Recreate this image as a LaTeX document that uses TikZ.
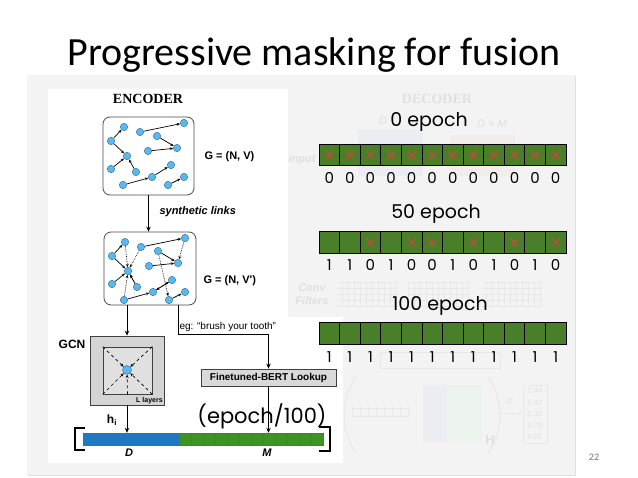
\documentclass[tikz,border=0pt]{standalone}
\usepackage{fontspec}
\setmainfont{Carlito}
\newfontfamily\arialfont{Liberation Sans}
\newfontfamily\timesfont{Liberation Serif}
\newfontfamily\comicfont{Poppins}
\usetikzlibrary{arrows.meta,shapes.misc}

\definecolor{slidegray}{HTML}{F3F3F3}
\definecolor{cellgreen}{HTML}{4A7F2A}
\definecolor{cellblue}{HTML}{1E78C2}
\definecolor{dotblue}{HTML}{5BB8EE}
\definecolor{crossred}{HTML}{D0473A}
\definecolor{fadeink}{HTML}{E0E0E0}
\definecolor{fadeline}{HTML}{E8E8E8}

\tikzset{
  gnode/.style={circle, draw=dotblue!60!black, fill=dotblue, line width=0.4pt, inner sep=0pt, minimum size=7.5pt},
  garr/.style={-{Stealth[length=3.2pt,width=2.8pt]}, line width=0.7pt},
  gdot/.style={garr, densely dotted},
  arr/.style={-{Stealth[length=5pt,width=4.5pt]}, line width=1pt},
  graphbox/.style={draw=black!70, fill=white, rounded corners=7pt, line width=0.8pt, inner sep=0pt},
  enclabel/.style={font=\arialfont\bfseries\fontsize{11}{13}\selectfont},
  dcell/.style={draw=black!60, fill=cellblue, minimum width=12pt, minimum height=12pt, inner sep=0pt, line width=0.4pt},
  mcell/.style={draw=black!60, fill=cellgreen!85!green, minimum width=12pt, minimum height=12pt, inner sep=0pt, line width=0.4pt},
  maskcell/.style={draw=black, fill=cellgreen, minimum width=20.6pt, minimum height=21.5pt, inner sep=0pt, line width=0.7pt},
  cross/.style={draw=crossred, cross out, line width=1.1pt, minimum size=6.5pt, inner sep=0pt},
  bit/.style={font=\comicfont\fontsize{15}{15}\selectfont, inner sep=0pt},
  epochlabel/.style={font=\comicfont\fontsize{19}{22}\selectfont},
  faded/.style={text=fadeink, inner sep=0pt},
}

\begin{document}
\begin{tikzpicture}[x=1pt, y=-1pt]
    \useasboundingbox (0,0) rectangle (638,478);
    % slide
    \fill[white] (0,0) rectangle (638,478);
    \fill[black!12] (28,76) rectangle (576,476);
    \fill[slidegray] (27,75) rectangle (575,475);
    \node[font=\fontsize{40}{48}\selectfont, anchor=base] (title) at (314,66) {Progressive masking for fusion};
    \node[text=black!55, font=\fontsize{10}{12}\selectfont] (pagenum) at (594,457) {22};

    % faded decoder behind
    \node[faded, font=\timesfont\bfseries\fontsize{14}{16}\selectfont] (dec) at (437,99) {DECODER};
    \node[faded, font=\arialfont\itshape\fontsize{11}{13}\selectfont] (decd) at (383,121) {D};
    \node[faded, font=\arialfont\itshape\fontsize{11}{13}\selectfont] (decdm) at (492,124) {D + M};
    \fill[blue!3!slidegray] (358,130) rectangle (423,176);
    \fill[red!3!slidegray] (450,135) rectangle (515,176);
    \node[faded, font=\arialfont\bfseries\itshape\fontsize{11}{13}\selectfont] (decin) at (302,160) {input};
    \node[faded, font=\arialfont\bfseries\itshape\fontsize{11}{13}\selectfont, align=center] (conv) at (312,294) {Conv\\Filters};
    \draw[fadeline, step=6pt] (337,282) grid (397,306);
    \draw[fadeline, step=6pt] (408,282) grid (468,306);
    \draw[fadeline, step=6pt] (482,282) grid (542,306);
    \draw[fadeline] (380,352) rectangle (500,368);
    \draw[fadeline, line width=1pt] (356,377) .. controls (340,400) and (340,430) .. (356,453);
    \draw[fadeline, line width=1pt] (488,377) .. controls (504,400) and (504,430) .. (488,453);
    \draw[fadeline] (352,405) grid[step=8pt] (408,417);
    \fill[blue!3!slidegray] (423,385) rectangle (447,442);
    \fill[green!3!slidegray] (447,385) rectangle (482,442);
    \node[faded, font=\arialfont\bfseries\fontsize{13}{15}\selectfont] (dech) at (490,440) {H};
    \node[faded, font=\fontsize{12}{14}\selectfont] (decsig) at (510,402) {$\sigma$};
    \draw[fadeline, ->] (498,413) -- (521,413);
    \draw[fadeline] (523,385) rectangle (547,443);
    \node[faded, font=\arialfont\fontsize{7.5}{11.5}\selectfont, align=center] (decvec) at (535,414) {0.44\\0.42\\0.32\\0.79\\0.02};

    % encoder picture
    \fill[white] (48,89) -- (288,89) -- (288,317) -- (343,317) -- (343,463) -- (48,463) -- cycle;
    \node[font=\timesfont\bfseries\fontsize{14}{16}\selectfont] (enc) at (148,99) {ENCODER};
    \node[graphbox, minimum width=91pt, minimum height=78pt] (box1) at (148.5,156) {};
    \node[graphbox, minimum width=92pt, minimum height=73pt] (box2) at (150,268.5) {};
    \foreach \n/\x/\y in {1/124/127, 2/111/141, 3/140/132, 4/184/123, 5/157/136,
                          6/177/148, 7/148/151, 8/127/156, 9/111/169, 10/136/172,
                          11/171/165, 12/152/177, 13/123/185, 14/184/177, 15/168/185} {
        \node[gnode] (a\n) at (\x,\y) {};
        \node[gnode] (b\n) at (\x+1,\y+115) {};
    }
    \foreach \s/\t in {2/1, 2/8, 3/4, 5/6, 7/6, 9/8, 10/8, 13/12, 12/11, 15/14} {
        \draw[garr] (a\s) -- (a\t);
        \draw[garr] (b\s) -- (b\t);
    }
    \foreach \s/\t in {1/8, 3/8, 4/6, 13/8, 10/8, 11/12, 5/15} {
        \draw[gdot] (b\s) -- (b\t);
    }
    \node[enclabel, anchor=west] (g1) at (201,157) {G = (N, V)};
    \node[enclabel, anchor=west] (g2) at (200,281) {G = (N, V')};
    \draw[arr] (box1.south) -- (box1.south |- box2.north);
    \node[enclabel, font=\arialfont\bfseries\itshape\fontsize{11}{13}\selectfont, anchor=west] (synth) at (156,212) {synthetic links};

    % GCN
    \node[draw=black!75, fill=black!17, minimum width=74pt, minimum height=69pt, line width=0.8pt] (gcn) at (127,370.5) {};
    \node[draw=black!75, fill=black!12, minimum width=49pt, minimum height=47pt, line width=0.6pt] (gcnin) at (127.5,370.5) {};
    \node[gnode, minimum size=9pt] (hub) at (127,370) {};
    \draw[gdot, dashed] (gcnin.north west) -- (hub);
    \draw[gdot, dashed] (gcnin.north east) -- (hub);
    \draw[gdot, dashed] (gcnin.south west) -- (hub);
    \draw[gdot, dashed] (gcnin.south east) -- (hub);
    \draw[gdot, dashed] (gcnin.south) -- (hub);
    \node[font=\arialfont\bfseries\fontsize{7}{8}\selectfont, anchor=south east, inner sep=1.5pt] (llay) at (gcn.south east) {L layers};
    \node[font=\arialfont\bfseries\fontsize{12}{14}\selectfont] (gcnlab) at (72,344) {GCN};
    \draw[arr] (box2.south -| gcn.north) -- (gcn.north);

    % text branch
    \coordinate (tap) at (178,305);
    \coordinate (elbow) at (178,335);
    \node[draw=black!75, fill=black!15, minimum width=135pt, minimum height=17pt, inner sep=0pt, line width=0.8pt,
          font=\arialfont\bfseries\fontsize{10}{12}\selectfont] (bert) at (268.5,377.5) {Finetuned-BERT Lookup};
    \draw[line width=1pt] (tap) -- (elbow);
    \draw[arr] (elbow) -| (bert.north);
    \node[font=\arialfont\fontsize{10}{12}\selectfont, anchor=west] (eg) at (176,327) {eg: “brush your tooth”};

    % fused vector
    \foreach \i in {1,...,8} {
        \node[dcell] (d\i) at (83+12*\i-6,439) {};
    }
    \foreach \i in {1,...,12} {
        \node[mcell] (m\i) at (179+12*\i-6,439) {};
    }
    \draw[line width=1.1pt] (85,428) -- (75,428) -- (75,450) -- (85,450);
    \draw[line width=1.1pt] (319,427) -- (330,427) -- (330,451) -- (319,451);
    \draw[arr] (gcn.south) -- (gcn.south |- d4.north);
    \node[font=\comicfont\fontsize{21}{24}\selectfont] (ratio) at (262,416) {(epoch/100)};
    \draw[arr] (bert.south) -- (bert.south |- m8.north);
    \node[font=\arialfont\bfseries\fontsize{12}{14}\selectfont] (hi) at (112,420) {h\textsubscript{i}};
    \node[font=\arialfont\bfseries\itshape\fontsize{11}{13}\selectfont] (dlab) at (129,453) {D};
    \node[font=\arialfont\bfseries\itshape\fontsize{11}{13}\selectfont] (mlab) at (267,453) {M};

    % masks at 0, 50 and 100 epochs
    \node[epochlabel] (ep0) at (429,122) {0 epoch};
    \foreach \i in {1,...,12} {
        \node[maskcell] (p\i) at ({319+20.58*(\i-0.5)},155) {};
        \node[cross] (px\i) at (p\i) {};
        \node[bit] (pb\i) at ({319+20.58*(\i-0.5)},178) {0};
    }
    \node[epochlabel] (ep50) at (436,214) {50 epoch};
    \foreach \i/\b in {1/1, 2/1, 3/0, 4/1, 5/0, 6/0, 7/1, 8/0, 9/1, 10/0, 11/1, 12/0} {
        \node[maskcell] (q\i) at ({319+20.58*(\i-0.5)},242.5) {};
        \ifnum\b=0 \node[cross] (qx\i) at (q\i) {}; \fi
        \node[bit] (qb\i) at ({319+20.58*(\i-0.5)},265) {\b};
    }
    \node[epochlabel] (ep100) at (440,306) {100 epoch};
    \foreach \i in {1,...,12} {
        \node[maskcell] (r\i) at ({319+20.58*(\i-0.5)},333.5) {};
        \node[bit] (rb\i) at ({319+20.58*(\i-0.5)},357) {1};
    }
\end{tikzpicture}
\end{document}
